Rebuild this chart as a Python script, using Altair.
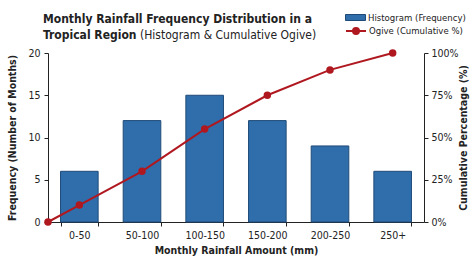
import altair as alt
import pandas as pd

ranges = ["0-50", "50-100", "100-150", "150-200", "200-250", "250+"]
freq = [6, 12, 15, 12, 9, 6]
cum_pct = [0, 10, 30, 55, 75, 90, 100]
freq_ticks = [0, 5, 10, 15, 20]
pct_ticks = [0, 25, 50, 75, 100]

FONT = "Liberation Sans Narrow, Arial Narrow, DejaVu Sans Condensed, sans-serif"
BLUE = "#2f6eab"
BLUE_DARK = "#1f4a78"
RED = "#b01820"
INK = "#222222"

bar_df = pd.DataFrame({"range": ranges, "freq": freq, "series": "Histogram (Frequency)"})
line_pos = [0] + [i + 0.5 for i in range(len(ranges))]
line_df = pd.DataFrame({"pos": line_pos, "cum": cum_pct, "series": "Ogive (Cumulative %)"})

bars = alt.Chart(bar_df).mark_bar(stroke=BLUE_DARK, strokeWidth=1).encode(
    x=alt.X("range:N", sort=ranges,
            scale=alt.Scale(paddingInner=0.4, paddingOuter=0.2),
            axis=alt.Axis(title="Monthly Rainfall Amount (mm)", labelAngle=0, tickBand="extent",
                          tickSize=4, labelPadding=4, titlePadding=5)),
    y=alt.Y("freq:Q", scale=alt.Scale(domain=[0, 20]),
            axis=alt.Axis(title="Frequency (Number of Months)", values=freq_ticks, grid=False,
                          tickSize=4, labelPadding=4, titlePadding=10)),
    fill=alt.Fill("series:N",
                  scale=alt.Scale(domain=["Histogram (Frequency)"], range=[BLUE]),
                  legend=alt.Legend(title=None, orient="none", legendX=297, legendY=-46,
                                    symbolType="M-1,-0.3L1,-0.3L1,0.3L-1,0.3Z",
                                    symbolSize=400, symbolStrokeColor=BLUE_DARK,
                                    symbolStrokeWidth=1, labelOffset=2, padding=0,
                                    labelFontSize=9.5, labelFont=FONT, labelColor=INK)),
)

line = alt.Chart(line_df).mark_line(
    color=RED, strokeWidth=2,
    point=alt.OverlayMarkDef(filled=True, size=30, color=RED),
).encode(
    x=alt.X("pos:Q", scale=alt.Scale(domain=[0, len(ranges)], nice=False, zero=False), axis=None),
    y=alt.Y("cum:Q", scale=alt.Scale(domain=[0, 100]),
            axis=alt.Axis(title="Cumulative Percentage (%)", orient="right", values=pct_ticks,
                          labelExpr="datum.value + '%'", grid=False, titleAngle=270,
                          tickSize=4, labelPadding=3, titlePadding=10)),
    stroke=alt.Stroke("series:N",
                      scale=alt.Scale(domain=["Ogive (Cumulative %)"], range=[RED]),
                      legend=alt.Legend(title=None, orient="none", legendX=297, legendY=-33,
                                        symbolType="M-1,0L1,0M-0.3,0A0.3,0.3 0 1,0 0.3,0A0.3,0.3 0 1,0 -0.3,0Z",
                                        symbolSize=400, symbolStrokeWidth=2,
                                        symbolFillColor=RED, labelOffset=2, padding=0,
                                        labelFontSize=9.5, labelFont=FONT, labelColor=INK)),
)

title_bold = alt.Chart(pd.DataFrame({"t": ["Monthly Rainfall Frequency Distribution in a"]})).mark_text(
    align="left", baseline="alphabetic", font=FONT, fontSize=12, fontWeight="bold", color=INK
).encode(x=alt.value(-5), y=alt.value(-30), text="t:N")
title_bold2 = alt.Chart(pd.DataFrame({"t": ["Tropical Region"]})).mark_text(
    align="left", baseline="alphabetic", font=FONT, fontSize=12, fontWeight="bold", color=INK
).encode(x=alt.value(-5), y=alt.value(-14), text="t:N")
title_reg = alt.Chart(pd.DataFrame({"t": ["(Histogram & Cumulative Ogive)"]})).mark_text(
    align="left", baseline="alphabetic", font=FONT, fontSize=12, fontWeight="normal", color=INK
).encode(x=alt.value(92), y=alt.value(-14), text="t:N")

chart = alt.layer(bars, line, title_bold, title_bold2, title_reg).resolve_scale(
    x="independent", y="independent"
).properties(
    width=376, height=169,
    autosize=alt.AutoSizeParams(type="none"),
    padding={"left": 48, "top": 53, "right": 50, "bottom": 42},
).configure_view(stroke=None).configure_axis(
    labelFont=FONT, labelFontSize=10.5, labelColor=INK,
    titleFont=FONT, titleFontSize=10.5, titleFontWeight="bold", titleColor=INK,
    domainColor=INK, tickColor=INK, domainWidth=1,
)

chart.save("out.html", embed_options={"renderer": "svg", "actions": False})
